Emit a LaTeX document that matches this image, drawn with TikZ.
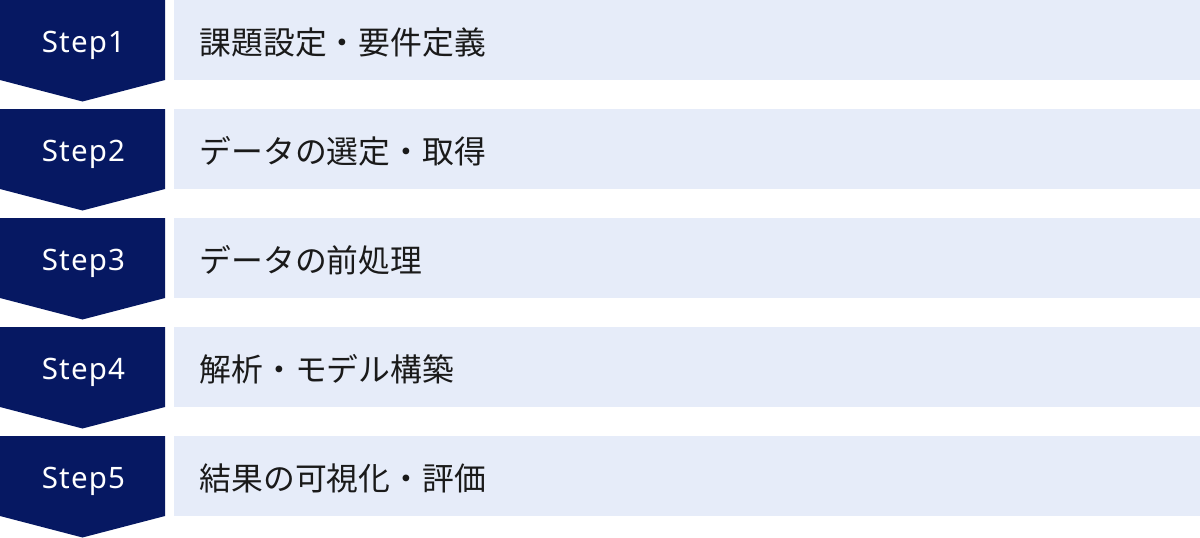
\documentclass[tikz,border=0pt]{standalone}
\usepackage{fontspec}
\setmainfont{Noto Sans CJK JP}
\newfontfamily\steplat[LetterSpace=4]{Noto Sans}
\definecolor{navy}{HTML}{061862}
\definecolor{barfill}{HTML}{E6ECF9}
\definecolor{ink}{HTML}{1A1A1A}
\begin{document}
\begin{tikzpicture}[x=1pt,y=-1pt,
  chevron/.style={fill=navy},
  bar/.style={fill=barfill},
  steplabel/.style={text=white,font=\steplat\fontsize{29.5}{32}\selectfont,inner sep=0pt,anchor=base},
  tasklabel/.style={text=ink,font=\fontsize{31.8}{34}\selectfont,inner sep=0pt,anchor=base west}]
\useasboundingbox (0,0) rectangle (1200,538);
\foreach \i/\t in {0/課題設定・要件定義,1/データの選定・取得,2/データの前処理,3/解析・モデル構築,4/結果の可視化・評価}{
  \pgfmathsetmacro\yy{109*\i}
  \pgfmathtruncatemacro\n{\i+1}
  \fill[chevron] (0,\yy) -- (165,\yy) -- (165,\yy+80) -- (82.5,\yy+101.5) -- (0,\yy+80) -- cycle;
  \fill[bar] (174,\yy) rectangle (1200,\yy+80);
  \node[steplabel] (s\n) at (83.5,\yy+52.5) {Step\n};
  \node[tasklabel] (t\n) at (199.5,\yy+54.5) {\t};
}
\end{tikzpicture}
\end{document}
